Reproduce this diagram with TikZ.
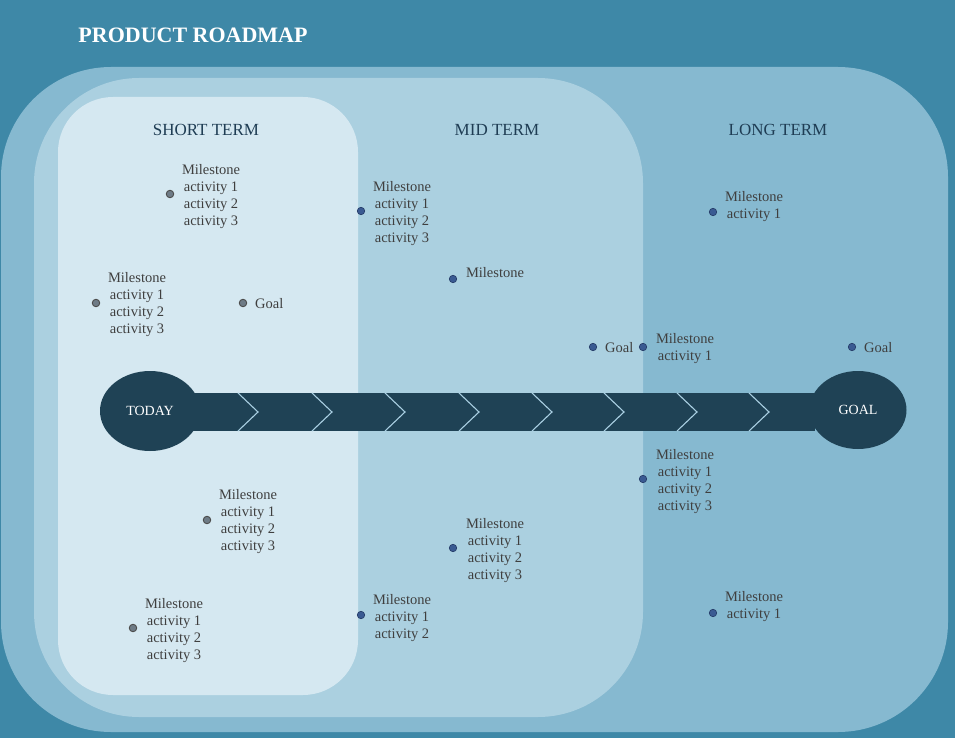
\documentclass[tikz,border=0pt]{standalone}
\usepackage{fontspec}
\setmainfont{Liberation Serif}
\usetikzlibrary{shapes.geometric}
\definecolor{bgblue}{HTML}{3E88A7}
\definecolor{outerc}{HTML}{86B9D0}
\definecolor{midc}{HTML}{ABD0E0}
\definecolor{innerc}{HTML}{D5E8F1}
\definecolor{bandc}{HTML}{1F4255}
\definecolor{chevc}{HTML}{A9CFE2}
\definecolor{headc}{HTML}{1F3D54}
\definecolor{txtc}{HTML}{3F3F3F}
\definecolor{dotblue}{HTML}{3A5A92}
\definecolor{dotedge}{HTML}{233A66}
\definecolor{dotgray}{HTML}{6E7B86}
\tikzset{
  msText/.style={align=center, inner sep=0pt, yshift=-2pt, text=txtc, font=\fontsize{14.5}{17}\selectfont},
  goalText/.style={anchor=west, inner sep=0pt, yshift=-1pt, text=txtc, font=\fontsize{14.5}{17}\selectfont},
  headText/.style={inner sep=0pt, yshift=-1pt, text=headc, font=\fontsize{17}{20}\selectfont},
  bluedot/.style={circle, fill=dotblue, draw=dotedge, line width=0.6pt, minimum size=7.5pt, inner sep=0pt},
  graydot/.style={circle, fill=dotgray, draw=black!70, line width=0.9pt, minimum size=7.5pt, inner sep=0pt},
  endoval/.style={ellipse, fill=bandc, text=white, inner sep=0pt, font=\fontsize{14}{16}\selectfont},
  chev/.style={draw=chevc, line width=1.1pt},
}
\begin{document}
\begin{tikzpicture}[x=1pt,y=-1pt]
\useasboundingbox (0,0) rectangle (955,738);
\fill[bgblue] (0,0) rectangle (955,738);
% nested panels
\fill[outerc, rounded corners=110pt] (1,67) rectangle (948,732);
\fill[midc, rounded corners=105pt] (34,78) rectangle (643,717);
\fill[innerc, rounded corners=55pt] (58,97) rectangle (358,695);
% title and headers
\node[inner sep=0pt, text=white, font=\bfseries\fontsize{22}{26}\selectfont] (title) at (193,35) {PRODUCT ROADMAP};
\node[headText] (hshort) at (206,129) {SHORT TERM};
\node[headText] (hmid) at (497,129) {MID TERM};
\node[headText] (hlong) at (778,129) {LONG TERM};
% arrow band
\fill[bandc] (190,393) rectangle (815,431);
\foreach \s in {238,312,385,459,532,604,677,749}{
  \draw[chev] (\s,393) -- (\s+20,412) -- (\s,431);
}
\node[endoval, minimum width=100pt, minimum height=80pt] (today) at (150,411) {TODAY};
\node[endoval, minimum width=97pt, minimum height=78pt] (goal) at (858,410) {GOAL};
% short term
\node[graydot] (d1) at (170,194) {};
\node[msText] (t1) at (211,195) {Milestone\\activity 1\\activity 2\\activity 3};
\node[graydot] (d2) at (96,303) {};
\node[msText] (t2) at (137,303) {Milestone\\activity 1\\activity 2\\activity 3};
\node[graydot] (d3) at (243,303) {};
\node[goalText] (t3) at (255,303) {Goal};
\node[graydot] (d4) at (207,520) {};
\node[msText] (t4) at (248,520) {Milestone\\activity 1\\activity 2\\activity 3};
\node[graydot] (d5) at (133,628) {};
\node[msText] (t5) at (174,629) {Milestone\\activity 1\\activity 2\\activity 3};
% mid term
\node[bluedot] (d6) at (361,211) {};
\node[msText] (t6) at (402,212) {Milestone\\activity 1\\activity 2\\activity 3};
\node[bluedot] (d7) at (453,279) {};
\node[msText] (t7) at (495,271) {Milestone};
\node[bluedot] (d8) at (593,347) {};
\node[goalText] (t8) at (605,347) {Goal};
\node[bluedot] (d9) at (453,548) {};
\node[msText] (t9) at (495,549) {Milestone\\activity 1\\activity 2\\activity 3};
\node[bluedot] (d10) at (361,615) {};
\node[msText] (t10) at (402,616) {Milestone\\activity 1\\activity 2};
% long term
\node[bluedot] (d11) at (713,212) {};
\node[msText] (t11) at (754,204.5) {Milestone\\activity 1};
\node[bluedot] (d12) at (643,347) {};
\node[msText] (t12) at (685,346.5) {Milestone\\activity 1};
\node[bluedot] (d13) at (852,347) {};
\node[goalText] (t13) at (864,347) {Goal};
\node[bluedot] (d14) at (643,479) {};
\node[msText] (t14) at (685,480) {Milestone\\activity 1\\activity 2\\activity 3};
\node[bluedot] (d15) at (713,613) {};
\node[msText] (t15) at (754,604.5) {Milestone\\activity 1};
\end{tikzpicture}
\end{document}
